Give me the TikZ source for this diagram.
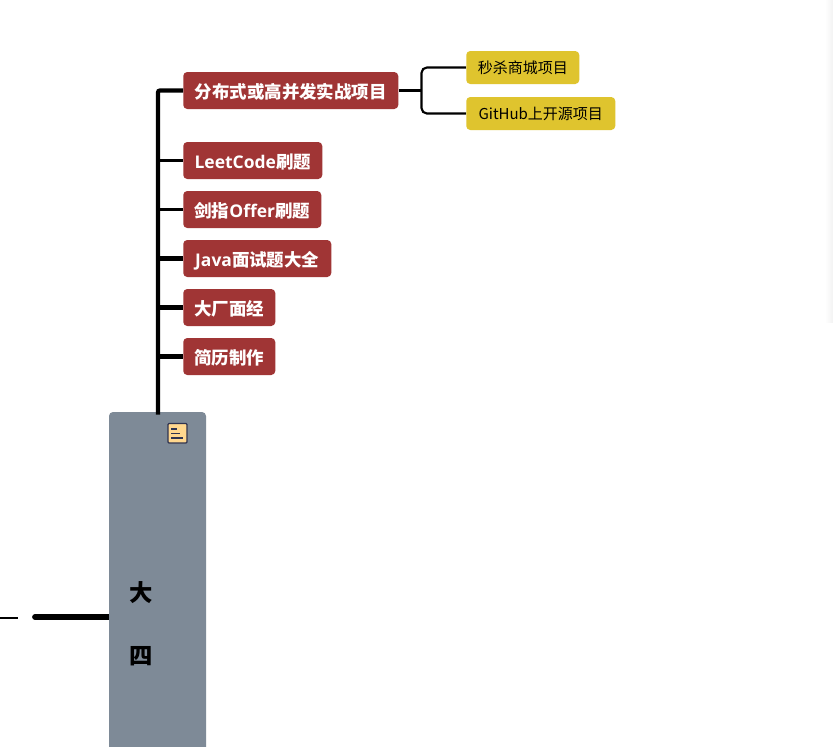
\documentclass[tikz,border=0pt]{standalone}
\usepackage{fontspec}
\setmainfont{Noto Sans CJK SC}
\newfontfamily\latinbold{Open Sans}
\usetikzlibrary{calc,backgrounds}
\definecolor{redbox}{HTML}{A03535}
\definecolor{yellowbox}{HTML}{DFC42E}
\definecolor{greybox}{HTML}{7E8A97}
\definecolor{noteface}{HTML}{FFD78E}
\definecolor{noteline}{HTML}{2F3350}
\newcommand{\lt}[1]{{\latinbold\bfseries #1}}
\tikzset{
  x=0.75pt,y=-0.75pt,
  redtopic/.style={fill=redbox,rounded corners=3pt,text=white,font=\fontsize{13.1pt}{15pt}\selectfont\bfseries,minimum height=27.75pt,inner sep=0pt,anchor=west,text height=14pt,text depth=2.5pt},
  yellowtopic/.style={fill=yellowbox,rounded corners=3pt,text=black,font=\fontsize{11.25pt}{14pt}\selectfont,minimum height=24.75pt,inner sep=0pt,anchor=west,align=center},
  bigtopic/.style={fill=greybox,rounded corners=3pt,minimum width=72.75pt,minimum height=307.5pt,inner sep=0pt},
  bigchar/.style={text=black,font=\fontsize{17.5pt}{19pt}\selectfont\bfseries,inner sep=0pt},
  trunkline/.style={draw=black,line width=3.2pt},
  branchthin/.style={draw=black,line width=2.6pt},
  branchthick/.style={draw=black,line width=3.2pt},
  subline/.style={draw=black,line width=1.6pt}
}
\begin{document}
\begin{tikzpicture}
\useasboundingbox (0,0) rectangle (833,747);
\clip (0,0) rectangle (833,747);
% nodes
\node[bigtopic] (big) at (157.5,617) {};
\node[bigchar] (c1) at (141,592.5) {大};
\node[bigchar] (c2) at (141,656) {四};
\node[redtopic,minimum width=161.25pt] (n1) at (183,90.5) {分布式或高并发实战项目};
\node[redtopic,minimum width=104.25pt] (n2) at (183,160.5) {\lt{LeetCode}刷题};
\node[redtopic,minimum width=103.5pt] (n3) at (183,209.5) {剑指\lt{Offer}刷题};
\node[redtopic,minimum width=111pt] (n4) at (183,258.5) {\lt{Java}面试题大全};
\node[redtopic,minimum width=69pt] (n5) at (183,307.5) {大厂面经};
\node[redtopic,minimum width=69pt] (n6) at (183,356.5) {简历制作};
\node[yellowtopic,minimum width=84.75pt] (y1) at (466,67.5) {秒杀商城项目};
\node[yellowtopic,minimum width=111.75pt] (y2) at (466,113.5) {GitHub上开源项目};
% connectors
\coordinate (trunkEnd) at ($(big.north)+(0.5,3)$);
\draw[trunkline,rounded corners=1.5pt] (trunkEnd) |- (n1.west);
\begin{scope}[on background layer]
\fill[white] (0,0) rectangle (833,747);
\shade[left color=white,right color=black!5] (825,0) rectangle (833,322);
\draw[branchthin] (n2.west) -- (n2.west -| trunkEnd);
\draw[branchthin] (n3.west) -- (n3.west -| trunkEnd);
\draw[branchthick] (n4.west) -- (n4.west -| trunkEnd);
\draw[branchthick] (n5.west) -- (n5.west -| trunkEnd);
\draw[branchthick] (n6.west) -- (n6.west -| trunkEnd);
\coordinate (fork) at ($(n1.east)+(23,0)$);
\draw[subline,line width=2.2pt] (n1.east) -- (fork);
\draw[subline,rounded corners=4pt] (y1.west) -| (fork) |- (y2.west);
\coordinate (stubA) at (35,617);
\coordinate (stubB) at (0,618);
\coordinate (stubC) at (18,618);
\draw[draw=black,line width=4.3pt,line cap=round] (big.west) -- (stubA);
\draw[draw=black,line width=1.5pt] (stubB) -- (stubC);
\end{scope}
% note icon
\draw[draw=noteline,fill=noteface,line width=0.9pt,rounded corners=0.8pt] (168,423.5) rectangle (187,443);
\draw[draw=noteline,line width=0.9pt] (171,429) -- (177,429) (171,433.5) -- (180,433.5) (171,438) -- (183,438);
\end{tikzpicture}
\end{document}
